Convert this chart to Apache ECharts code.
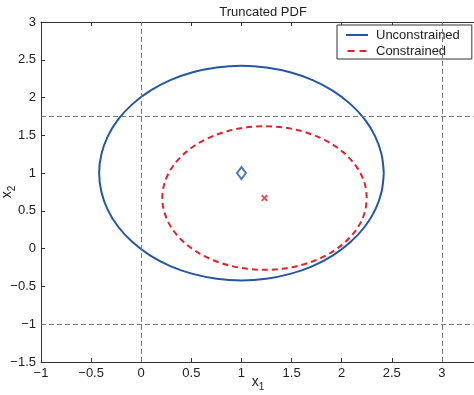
<!DOCTYPE html>
<html>
<head>
<meta charset="utf-8">
<script src="https://cdn.jsdelivr.net/npm/echarts@6/dist/echarts.min.js"></script>
<style>html,body{margin:0;padding:0;background:#fff}#c{width:474px;height:395px}</style>
</head>
<body>
<div id="c"></div>
<script>
// Contour of the unconstrained PDF
const unconstrained = [
  [2.420,1.000],[2.398,1.247],[2.334,1.486],[2.230,1.710],[2.088,1.913],[1.913,2.088],
  [1.710,2.230],[1.486,2.334],[1.247,2.398],[1.000,2.420],[0.753,2.398],[0.514,2.334],
  [0.290,2.230],[0.087,2.088],[-0.088,1.913],[-0.230,1.710],[-0.334,1.486],[-0.398,1.247],
  [-0.420,1.000],[-0.398,0.753],[-0.334,0.514],[-0.230,0.290],[-0.088,0.087],[0.087,-0.088],
  [0.290,-0.230],[0.514,-0.334],[0.753,-0.398],[1.000,-0.420],[1.247,-0.398],[1.486,-0.334],
  [1.710,-0.230],[1.913,-0.088],[2.088,0.087],[2.230,0.290],[2.334,0.514],[2.398,0.753],
  [2.420,1.000]
];
// Contour of the constrained (truncated) PDF
const constrained = [
  [2.250,0.670],[2.235,0.835],[2.189,0.995],[2.113,1.145],[2.011,1.281],[1.886,1.398],
  [1.740,1.493],[1.579,1.563],[1.407,1.606],[1.230,1.620],[1.053,1.606],[0.881,1.563],
  [0.720,1.493],[0.574,1.398],[0.449,1.281],[0.347,1.145],[0.272,0.995],[0.226,0.835],
  [0.210,0.670],[0.226,0.505],[0.272,0.345],[0.347,0.195],[0.449,0.059],[0.574,-0.058],
  [0.720,-0.153],[0.881,-0.223],[1.053,-0.266],[1.230,-0.280],[1.407,-0.266],[1.579,-0.223],
  [1.740,-0.153],[1.886,-0.058],[2.011,0.059],[2.113,0.195],[2.189,0.345],[2.235,0.505],
  [2.250,0.670]
];
const unconstrainedMean = [[1.0, 1.0]];
const constrainedMean = [[1.23, 0.67]];
const boundX = [0, 3];
const boundY = [-1, 1.75];

const BLUE = '#2456a6', RED = '#e3232c', GRAY = '#7a7a7a', AX = '#333';
const FONT = 'Liberation Sans, Arial, Helvetica, sans-serif';

const chart = echarts.init(document.getElementById('c'), null, {renderer: 'canvas'});
const xCommon = {
  type: 'value', min: -1, max: 3.33, interval: 0.5,
  axisLine: {show: true, onZero: false, lineStyle: {color: AX, width: 1}},
  axisTick: {show: true, inside: true, length: 4, lineStyle: {color: AX}},
  splitLine: {show: false}
};
const nameRich = () => ({
  a: {fontFamily: FONT, fontSize: 14, color: '#222'},
  b: {fontFamily: FONT, fontSize: 10, color: '#222', verticalAlign: 'bottom', padding: [9, 0, 0, 0]}
});
chart.setOption({
  animation: false,
  title: {
    text: 'Truncated PDF', left: 258, top: 1, textAlign: 'center',
    textStyle: {fontFamily: FONT, fontSize: 13, fontWeight: 'normal', color: '#222'}
  },
  grid: {left: 41, top: 22, width: 434, height: 340, containLabel: false, outerBoundsMode: 'none'},
  legend: {
    data: [
      {name: 'Unconstrained', icon: 'path://M0,0H22V2H0Z'},
      {name: 'Constrained', icon: 'path://M1,0H8V2H1Z M13,0H20V2H13Z'}
    ],
    orient: 'vertical', left: 337, top: 25,
    padding: [3, 12, 1, 9], itemWidth: 22, itemHeight: 2, itemGap: 2,
    borderColor: '#333', borderWidth: 1, backgroundColor: '#fff', borderRadius: 0,
    textStyle: {fontFamily: FONT, fontSize: 13, color: '#222', padding: [0, 0, 0, 3], lineHeight: 14}
  },
  xAxis: [
    Object.assign({}, xCommon, {
      position: 'bottom',
      axisLabel: {fontFamily: FONT, fontSize: 13, color: '#222', margin: 5, showMaxLabel: false,
        formatter: v => (Math.abs(v * 2 - Math.round(v * 2)) < 1e-9 ? String(v).replace('-', '\u2212') : '')},
      name: '{a|x}{b|1}', nameLocation: 'middle', nameGap: 11, nameMoveOverlap: false,
      nameTextStyle: {rich: nameRich()}
    }),
    Object.assign({}, xCommon, {position: 'top', axisLabel: {show: false}})
  ],
  yAxis: {
    type: 'value', min: -1.5, max: 3, interval: 0.5,
    axisLine: {show: true, onZero: false, lineStyle: {color: AX, width: 1}},
    axisTick: {show: true, inside: true, length: 4, lineStyle: {color: AX}},
    splitLine: {show: false},
    axisLabel: {fontFamily: FONT, fontSize: 13, color: '#222', margin: 5,
      formatter: v => String(v).replace('-', '\u2212')},
    name: '{a|x}{b|2}', nameLocation: 'middle', nameGap: 24, nameRotate: 90, nameMoveOverlap: false,
    nameTextStyle: {rich: nameRich()}
  },
  series: [
    {
      name: 'bounds', type: 'line', data: [], silent: true,
      markLine: {
        silent: true, symbol: 'none', label: {show: false},
        lineStyle: {color: GRAY, width: 1, type: [5, 3]},
        data: boundX.map(v => ({xAxis: v})).concat(boundY.map(v => ({yAxis: v})))
      }
    },
    {
      name: 'Unconstrained', type: 'line', data: unconstrained, smooth: 0.33,
      symbol: 'none', lineStyle: {color: BLUE, width: 2}, itemStyle: {color: BLUE}, z: 3
    },
    {
      name: 'Constrained', type: 'line', data: constrained, smooth: 0.33,
      symbol: 'none', lineStyle: {color: RED, width: 2, type: [6, 4]}, itemStyle: {color: RED}, z: 3
    },
    {
      name: 'umean', type: 'scatter', data: unconstrainedMean, symbol: 'diamond', symbolSize: [9, 12],
      itemStyle: {color: '#fff', borderColor: BLUE, borderWidth: 2}, z: 4
    },
    {
      name: 'cmean', type: 'scatter', data: constrainedMean,
      symbol: 'path://M0,2L2,0L5,3L8,0L10,2L7,5L10,8L8,10L5,7L2,10L0,8L3,5Z', symbolSize: 7,
      itemStyle: {color: RED}, z: 4
    }
  ]
});
</script>
</body>
</html>
